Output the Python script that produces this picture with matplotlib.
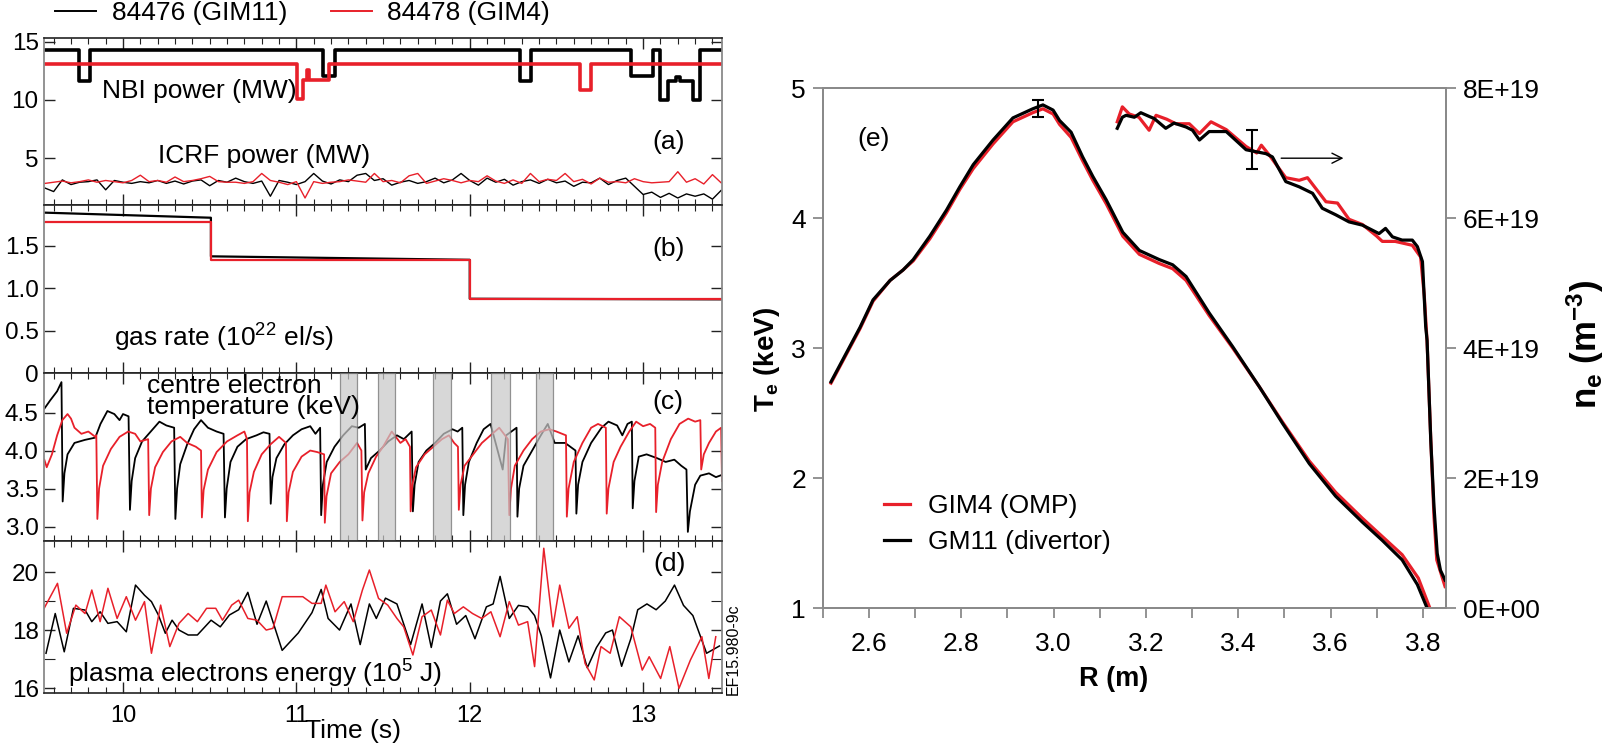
import matplotlib
matplotlib.use("Agg")
import matplotlib.pyplot as plt
from matplotlib.ticker import MultipleLocator, FixedLocator, FuncFormatter
import numpy as np

plt.rcParams['font.family'] = ['Liberation Sans', 'DejaVu Sans']
plt.rcParams['mathtext.fontset'] = 'custom'
plt.rcParams['mathtext.rm'] = 'Liberation Sans'
plt.rcParams['mathtext.bf'] = 'Liberation Sans:bold'
plt.rcParams['mathtext.it'] = 'Liberation Sans:italic'
plt.rcParams['mathtext.default'] = 'regular'

# ---------------- data: left panels (time traces) ----------------
series_labels = ["84476 (GIM11)", "84478 (GIM4)"]

# (a) NBI power, step traces (MW)
nbi_black_t = [9.546, 9.746, 9.812, 11.156, 11.222, 12.289, 12.352, 12.932, 13.056, 13.095,
               13.143, 13.19, 13.21, 13.287, 13.33, 13.455]
nbi_black_v = [14.3, 11.6, 14.3, 12.05, 14.3, 11.6, 14.3, 12.05, 14.3, 10.0,
               11.6, 12.0, 11.6, 10.0, 14.3, 14.3]
nbi_red_t = [9.546, 11.005, 11.037, 11.062, 11.075, 11.19, 12.634, 12.698, 13.455]
nbi_red_v = [13.1, 10.1, 11.7, 12.6, 11.7, 13.1, 10.85, 13.1, 13.1]

# (a) ICRF power (MW)
icrf_t = [9.55, 9.60, 9.65, 9.70, 9.75, 9.80, 9.85, 9.90, 9.95, 10.00, 10.05, 10.10, 10.15,
          10.20, 10.25, 10.30, 10.35, 10.40, 10.45, 10.50, 10.55, 10.60, 10.65, 10.70, 10.75,
          10.80, 10.85, 10.90, 10.95, 11.00, 11.05, 11.10, 11.15, 11.20, 11.25, 11.30, 11.35,
          11.40, 11.45, 11.50, 11.55, 11.60, 11.65, 11.70, 11.75, 11.80, 11.85, 11.90, 11.95,
          12.00, 12.05, 12.10, 12.15, 12.20, 12.25, 12.30, 12.35, 12.40, 12.45, 12.50, 12.55,
          12.60, 12.65, 12.70, 12.75, 12.80, 12.85, 12.90, 12.95, 13.00, 13.05, 13.10, 13.15,
          13.20, 13.25, 13.30, 13.35, 13.40, 13.45]
icrf_black = [2.45, 2.15, 3.15, 2.75, 2.95, 3.00, 3.15, 2.30, 3.10, 2.95, 2.85, 3.00, 2.90,
              3.10, 2.85, 3.05, 2.80, 3.05, 3.15, 2.65, 3.10, 2.95, 3.30, 3.00, 2.85,
              3.05, 1.75, 3.10, 2.95, 2.75, 3.00, 3.70, 3.05, 2.80, 3.15, 3.00, 3.55,
              3.70, 3.10, 3.25, 2.70, 2.95, 3.10, 2.85, 3.00, 3.30, 2.90, 3.15, 3.70,
              3.10, 2.70, 3.30, 2.95, 3.20, 2.70, 3.00, 3.15, 2.85, 3.20, 2.90, 3.05,
              2.60, 2.95, 2.90, 3.30, 2.75, 3.10, 3.30, 2.60, 1.90, 2.10, 1.65, 2.00,
              1.60, 1.95, 1.75, 1.95, 1.50, 2.25]
icrf_red = [2.85, 2.95, 3.05, 2.90, 3.00, 3.15, 2.95, 3.10, 3.00, 2.90, 3.10, 3.55, 3.00,
            3.10, 2.95, 3.40, 3.00, 3.10, 3.25, 3.45, 3.00, 2.95, 2.95, 2.85, 3.00,
            3.70, 3.10, 2.95, 2.75, 3.00, 1.60, 3.00, 2.85, 2.95, 3.00, 3.15, 3.05,
            2.95, 3.70, 3.00, 3.10, 2.90, 3.50, 3.70, 2.85, 3.05, 3.25, 3.10, 2.90,
            3.10, 3.00, 3.50, 3.05, 2.85, 3.15, 2.85, 3.70, 3.00, 3.20, 3.10, 3.70,
            3.00, 3.20, 2.80, 3.30, 2.95, 3.00, 2.90, 3.25, 3.00, 2.90, 2.95, 3.00,
            3.85, 2.95, 3.25, 2.80, 3.60, 2.90]

# (b) gas rate (1e22 el/s)
gas_t = [9.546, 10.507, 10.507, 12.0, 12.0, 13.455]
gas_black = [1.89, 1.83, 1.375, 1.334, 0.875, 0.868]
gas_red = [1.775, 1.775, 1.330, 1.330, 0.875, 0.875]

# (c) centre electron temperature (keV)
te_black_t = [9.546, 9.58, 9.62, 9.645, 9.652, 9.662, 9.68, 9.72, 9.78, 9.84, 9.87, 9.91, 9.95,
              9.98, 10.00, 10.032, 10.04, 10.05, 10.07, 10.11, 10.16, 10.21, 10.25, 10.295,
              10.302, 10.312, 10.33, 10.37, 10.41, 10.45, 10.49, 10.54, 10.58, 10.588, 10.598,
              10.62, 10.66, 10.71, 10.77, 10.81, 10.845, 10.852, 10.862, 10.885, 10.93, 10.98,
              11.03, 11.08, 11.11, 11.137, 11.143, 11.153, 11.175, 11.22, 11.27, 11.32, 11.36,
              11.395, 11.40, 11.43, 11.48, 11.53, 11.58, 11.62, 11.665, 11.672, 11.682, 11.705,
              11.75, 11.80, 11.85, 11.90, 11.93, 11.957, 11.963, 11.973, 11.995, 12.04, 12.08,
              12.12, 12.19, 12.21, 12.27, 12.275, 12.285, 12.31, 12.36, 12.41, 12.45, 12.49,
              12.55, 12.61, 12.615, 12.625, 12.65, 12.70, 12.76, 12.80, 12.85, 12.88, 12.91,
              12.935, 12.94, 12.95, 12.975, 13.02, 13.08, 13.13, 13.18, 13.22, 13.25, 13.258,
              13.27, 13.30, 13.33, 13.38, 13.42, 13.455]
te_black_v = [4.55, 4.66, 4.78, 4.90, 3.33, 3.70, 3.95, 4.10, 4.14, 4.17, 4.35, 4.52, 4.48,
              4.40, 4.48, 4.45, 3.22, 3.60, 3.90, 4.12, 4.25, 4.38, 4.33, 4.30,
              3.10, 3.50, 3.82, 4.08, 4.28, 4.40, 4.30, 4.25, 4.22, 3.12, 3.50,
              3.85, 4.05, 4.15, 4.20, 4.24, 4.22, 3.30, 3.65, 3.90, 4.08, 4.20,
              4.28, 4.32, 4.22, 4.30, 3.15, 3.55, 3.85, 4.05, 4.20, 4.32, 4.30,
              4.35, 3.75, 3.90, 4.00, 4.12, 4.20, 4.15, 4.25, 3.20, 3.55, 3.85,
              4.00, 4.10, 4.22, 4.28, 4.25, 4.30, 3.15, 3.55, 3.85, 4.10, 4.28,
              4.35, 3.75, 4.20, 4.30, 3.13, 3.50, 3.80, 4.00, 4.20, 4.35, 4.10,
              4.10, 4.00, 3.17, 3.55, 3.85, 4.10, 4.30, 4.38, 4.33, 4.20, 4.35,
              4.38, 3.24, 3.60, 3.92, 3.95, 3.90, 3.85, 3.88, 3.80, 3.75, 2.93,
              3.20, 3.55, 3.67, 3.70, 3.65, 3.68]
te_red_t = [9.546, 9.56, 9.59, 9.62, 9.65, 9.68, 9.70, 9.72, 9.76, 9.80, 9.84, 9.846, 9.852,
            9.862, 9.885, 9.93, 9.98, 10.03, 10.07, 10.10, 10.145, 10.151, 10.161, 10.185,
            10.23, 10.28, 10.33, 10.37, 10.42, 10.45, 10.455, 10.465, 10.49, 10.54, 10.60,
            10.66, 10.70, 10.715, 10.72, 10.73, 10.755, 10.80, 10.85, 10.90, 10.94, 10.945,
            10.955, 10.98, 11.03, 11.08, 11.12, 11.16, 11.164, 11.174, 11.20, 11.25, 11.30,
            11.35, 11.375, 11.381, 11.391, 11.415, 11.46, 11.50, 11.55, 11.60, 11.63, 11.655,
            11.659, 11.669, 11.69, 11.74, 11.79, 11.84, 11.88, 11.91, 11.932, 11.937, 11.947,
            11.97, 12.02, 12.07, 12.12, 12.17, 12.22, 12.228, 12.238, 12.26, 12.31, 12.36,
            12.41, 12.46, 12.50, 12.555, 12.56, 12.57, 12.60, 12.65, 12.70, 12.74, 12.785,
            12.79, 12.80, 12.83, 12.87, 12.92, 12.96, 13.00, 13.04, 13.07, 13.075, 13.085,
            13.11, 13.16, 13.21, 13.26, 13.30, 13.33, 13.335, 13.35, 13.38, 13.42, 13.45, 13.455]
te_red_v = [3.88, 3.78, 3.95, 4.20, 4.40, 4.48, 4.42, 4.30, 4.22, 4.25, 4.18, 4.20, 3.10,
            3.50, 3.80, 4.02, 4.18, 4.25, 4.22, 4.12, 4.15, 3.15, 3.50, 3.78,
            3.98, 4.12, 4.18, 4.10, 4.05, 4.00, 3.12, 3.48, 3.75, 3.98, 4.12,
            4.20, 4.25, 4.15, 3.07, 3.45, 3.72, 3.95, 4.08, 4.18, 4.10, 3.07,
            3.45, 3.72, 3.92, 4.00, 3.98, 3.95, 3.05, 3.40, 3.70, 3.85, 3.95,
            4.10, 4.00, 3.08, 3.45, 3.70, 3.92, 4.05, 4.25, 4.10, 4.15, 4.05,
            3.20, 3.55, 3.78, 3.95, 4.05, 4.15, 4.20, 4.10, 4.05, 3.22, 3.55,
            3.80, 3.95, 4.10, 4.20, 4.30, 4.15, 3.15, 3.50, 3.80, 4.00, 4.15,
            4.25, 4.28, 4.25, 4.20, 3.13, 3.50, 3.85, 4.10, 4.30, 4.35, 4.30,
            3.17, 3.50, 3.85, 4.05, 4.25, 4.38, 4.32, 4.35, 4.30, 3.19, 3.55,
            3.85, 4.15, 4.35, 4.42, 4.38, 4.40, 3.75, 3.95, 4.10, 4.25, 4.30, 3.60]
# shaded time windows in (c): (start, end) in s
band_start = [11.25, 11.47, 11.79, 12.12, 12.38]
band_end = [11.35, 11.57, 11.89, 12.23, 12.48]

# (d) plasma electrons energy (1e5 J)
we_black_t = [9.556, 9.609, 9.661, 9.714, 9.781, 9.820, 9.868, 9.913, 9.966, 10.019, 10.072,
              10.124, 10.164, 10.204, 10.244, 10.283, 10.323, 10.376, 10.429, 10.508, 10.561,
              10.614, 10.667, 10.720, 10.773, 10.826, 10.918, 11.011, 11.090, 11.143, 11.183,
              11.249, 11.315, 11.368, 11.421, 11.461, 11.514, 11.580, 11.659, 11.725, 11.778,
              11.831, 11.871, 11.924, 11.977, 12.030, 12.096, 12.135, 12.175, 12.228, 12.281,
              12.334, 12.374, 12.413, 12.466, 12.519, 12.572, 12.625, 12.678, 12.731, 12.784,
              12.823, 12.876, 12.929, 12.969, 13.022, 13.075, 13.128, 13.181, 13.233, 13.287,
              13.366, 13.440]
we_black_v = [17.2, 18.57, 17.25, 18.75, 18.69, 18.29, 18.63, 18.23, 18.29, 17.94, 19.55,
              19.2, 18.98, 18.52, 17.89, 18.34, 18.0, 17.83, 17.83, 18.34, 18.11,
              18.52, 18.7, 19.3, 18.2, 19.0, 17.3, 17.9, 18.6, 19.4, 18.4,
              18.0, 18.9, 17.5, 18.9, 18.4, 19.1, 18.9, 17.5, 18.9, 17.4,
              19.0, 19.25, 18.2, 18.5, 17.7, 18.8, 18.9, 19.85, 18.4, 18.85,
              18.8, 18.5, 17.8, 16.35, 18.0, 16.9, 17.8, 16.7, 17.4, 17.9,
              18.0, 16.75, 17.7, 18.7, 18.9, 18.7, 19.0, 19.55, 18.85, 18.5,
              17.2, 17.45]
we_red_t = [9.545, 9.622, 9.675, 9.728, 9.781, 9.820, 9.868, 9.913, 9.966, 10.019, 10.072,
            10.124, 10.164, 10.217, 10.270, 10.323, 10.376, 10.429, 10.482, 10.535, 10.574,
            10.627, 10.667, 10.720, 10.773, 10.826, 10.865, 10.918, 10.984, 11.037, 11.090,
            11.143, 11.170, 11.223, 11.276, 11.328, 11.381, 11.421, 11.474, 11.527, 11.580,
            11.619, 11.672, 11.725, 11.778, 11.831, 11.871, 11.911, 11.963, 12.016, 12.069,
            12.122, 12.175, 12.228, 12.281, 12.334, 12.374, 12.427, 12.480, 12.519, 12.572,
            12.620, 12.665, 12.718, 12.757, 12.810, 12.863, 12.929, 12.995, 13.035, 13.101,
            13.154, 13.207, 13.273, 13.339, 13.379, 13.419]
we_red_v = [18.75, 19.61, 17.89, 18.86, 18.57, 19.38, 18.29, 19.44, 18.40, 19.15, 18.34,
            18.98, 17.20, 18.86, 17.43, 18.23, 18.57, 18.29, 18.75, 18.75, 18.34,
            18.86, 19.03, 18.40, 18.34, 18.00, 18.06, 19.15, 19.15, 19.15, 18.92,
            18.92, 19.55, 18.63, 18.98, 18.29, 19.38, 20.07, 19.09, 18.86, 18.40,
            18.11, 17.14, 18.46, 18.69, 17.83, 19.03, 18.57, 18.80, 18.57, 18.40,
            18.63, 17.77, 18.98, 18.17, 18.29, 16.74, 20.82, 18.11, 19.55, 18.06,
            18.46, 16.85, 16.28, 17.43, 17.20, 18.46, 18.11, 16.62, 17.08, 16.33,
            17.43, 15.99, 16.97, 17.77, 16.33, 17.77]

# ---------------- data: right panel (profiles) ----------------
profile_labels = ["GIM4 (OMP)", "GM11 (divertor)"]
te_R_black = [2.518, 2.545, 2.581, 2.609, 2.646, 2.674, 2.696, 2.732, 2.768, 2.797, 2.826, 2.869,
              2.912, 2.955, 2.977, 2.999, 3.013, 3.038, 3.063, 3.085, 3.114, 3.150, 3.186, 3.229,
              3.258, 3.287, 3.337, 3.388, 3.446, 3.496, 3.554, 3.611, 3.669, 3.712, 3.755, 3.788,
              3.809, 3.812]
te_prof_black = [2.74, 2.92, 3.16, 3.37, 3.52, 3.60, 3.68, 3.86, 4.06, 4.24, 4.41, 4.60,
                 4.77, 4.84, 4.87, 4.83, 4.75, 4.66, 4.47, 4.32, 4.14, 3.89, 3.75, 3.68,
                 3.64, 3.55, 3.27, 3.01, 2.70, 2.42, 2.11, 1.86, 1.66, 1.52, 1.37, 1.18,
                 1.00, 0.95]
te_R_red = [2.518, 2.545, 2.581, 2.609, 2.646, 2.674, 2.696, 2.732, 2.768, 2.797, 2.826, 2.869,
            2.912, 2.955, 2.977, 2.999, 3.013, 3.038, 3.063, 3.085, 3.114, 3.150, 3.186, 3.229,
            3.258, 3.287, 3.337, 3.388, 3.446, 3.496, 3.554, 3.611, 3.669, 3.712, 3.755, 3.790,
            3.815, 3.818]
te_prof_red = [2.73, 2.91, 3.15, 3.36, 3.52, 3.60, 3.67, 3.84, 4.04, 4.22, 4.38, 4.57,
               4.74, 4.81, 4.84, 4.80, 4.72, 4.62, 4.44, 4.29, 4.11, 3.86, 3.72, 3.65,
               3.61, 3.52, 3.25, 3.00, 2.70, 2.43, 2.13, 1.89, 1.69, 1.55, 1.41, 1.23,
               1.00, 0.95]
ne_R_black = [3.138, 3.149, 3.157, 3.175, 3.189, 3.208, 3.218, 3.243, 3.261, 3.287, 3.301, 3.316,
              3.337, 3.374, 3.417, 3.460, 3.474, 3.503, 3.532, 3.561, 3.582, 3.611, 3.640, 3.669,
              3.705, 3.719, 3.734, 3.755, 3.777, 3.788, 3.799, 3.806, 3.809, 3.817, 3.824, 3.831,
              3.838, 3.848]
ne_prof_black = [7.38e19, 7.55e19, 7.58e19, 7.55e19, 7.62e19, 7.56e19, 7.53e19, 7.38e19, 7.46e19,
                 7.40e19, 7.35e19, 7.20e19, 7.33e19, 7.33e19, 7.05e19, 6.99e19, 6.94e19, 6.56e19,
                 6.48e19, 6.38e19, 6.15e19, 6.05e19, 5.94e19, 5.89e19, 5.76e19, 5.84e19, 5.71e19,
                 5.66e19, 5.66e19, 5.56e19, 5.33e19, 4.33e19, 4.12e19, 2.58e19, 1.56e19, 0.84e19,
                 0.58e19, 0.43e19]
ne_R_red = [3.138, 3.149, 3.164, 3.185, 3.207, 3.222, 3.245, 3.265, 3.294, 3.316, 3.341, 3.374,
            3.417, 3.440, 3.450, 3.466, 3.503, 3.532, 3.550, 3.590, 3.615, 3.640, 3.669, 3.700,
            3.712, 3.740, 3.777, 3.795, 3.803, 3.809, 3.817, 3.824, 3.830, 3.848]
ne_prof_red = [7.48e19, 7.71e19, 7.60e19, 7.55e19, 7.35e19, 7.58e19, 7.52e19, 7.45e19, 7.45e19,
               7.30e19, 7.48e19, 7.36e19, 7.10e19, 7.00e19, 7.12e19, 6.98e19, 6.62e19, 6.58e19,
               6.62e19, 6.25e19, 6.23e19, 5.98e19, 5.90e19, 5.72e19, 5.64e19, 5.64e19, 5.58e19,
               5.40e19, 4.80e19, 4.10e19, 2.60e19, 1.40e19, 0.74e19, 0.33e19]
te_err_R, te_err_v, te_err = 2.966, 4.845, 0.065
ne_err_R, ne_err_v, ne_err = 3.43, 7.05e19, 0.30e19

RED = '#e8202a'
BLACK = '#000000'

# ---------------- figure ----------------
W, H = 1604, 749
fig = plt.figure(figsize=(W / 100, H / 100), dpi=100)


def rect(x0, y0, x1, y1):
    return [x0 / W, 1 - y1 / H, (x1 - x0) / W, (y1 - y0) / H]


axa = fig.add_axes(rect(44.3, 38, 722, 205))
axb = fig.add_axes(rect(44.3, 205, 722, 373), sharex=axa)
axc = fig.add_axes(rect(44.3, 373, 722, 541), sharex=axa)
axd = fig.add_axes(rect(44.3, 541, 722, 693), sharex=axa)

# (a)
axa.plot(nbi_black_t, nbi_black_v, drawstyle='steps-post', color=BLACK, lw=2.6)
axa.plot(nbi_red_t, nbi_red_v, drawstyle='steps-post', color=RED, lw=2.6)
hb, = axa.plot(icrf_t, icrf_black, color=BLACK, lw=1.0)
hr, = axa.plot(icrf_t, icrf_red, color=RED, lw=1.0)
axa.set_ylim(1.0, 15.3)
axa.yaxis.set_major_locator(FixedLocator([5, 10, 15]))

# (b)
axb.plot(gas_t, gas_black, color=BLACK, lw=1.6)
axb.plot(gas_t, gas_red, color=RED, lw=1.6)
axb.set_ylim(0, 1.98)
axb.yaxis.set_major_locator(FixedLocator([0, 0.5, 1.0, 1.5]))
axb.yaxis.set_major_formatter(FuncFormatter(lambda v, p: '0' if abs(v) < 1e-9 else f'{v:.1f}'))

# (c)
axc.plot(te_black_t, te_black_v, color=BLACK, lw=1.3)
axc.plot(te_red_t, te_red_v, color=RED, lw=1.3)
for s, e in zip(band_start, band_end):
    axc.axvspan(s, e, facecolor='#c8c8c8', alpha=0.72, edgecolor='#6f6f6f', lw=0.9, zorder=3)
axc.set_ylim(2.81, 5.02)
axc.yaxis.set_major_locator(FixedLocator([3.0, 3.5, 4.0, 4.5]))
axc.yaxis.set_major_formatter(FuncFormatter(lambda v, p: f'{v:.1f}'))

# (d)
axd.plot(we_black_t, we_black_v, color=BLACK, lw=1.1)
axd.plot(we_red_t, we_red_v, color=RED, lw=1.1)
axd.set_ylim(15.83, 21.07)
axd.yaxis.set_major_locator(FixedLocator([16, 18, 20]))
axd.yaxis.set_minor_locator(FixedLocator([17, 19]))

axa.set_xlim(9.546, 13.455)
for ax in (axa, axb, axc, axd):
    ax.xaxis.set_major_locator(MultipleLocator(1))
    ax.xaxis.set_minor_locator(MultipleLocator(0.1))
    ax.tick_params(which='both', direction='in', top=True, right=True, color='#222222')
    ax.tick_params(which='major', length=8, width=1.0)
    ax.tick_params(which='minor', length=4, width=0.8)
    ax.tick_params(axis='y', which='minor', length=8)
    ax.tick_params(axis='y', labelsize=17.5, pad=4)
    ax.tick_params(axis='x', labelsize=17, pad=9)
    for side in ('left', 'right'):
        ax.spines[side].set_color('#8a8a8a')
        ax.spines[side].set_linewidth(1.3)
    for side in ('top', 'bottom'):
        ax.spines[side].set_color('#222222')
        ax.spines[side].set_linewidth(1.2)
    if ax is not axd:
        ax.tick_params(axis='x', labelbottom=False)

# annotations in left panels
TXT = 19
axa.text(0.085, 0.641, 'NBI power (MW)', transform=axa.transAxes, fontsize=TXT, va='baseline')
axa.text(0.168, 0.251, 'ICRF power (MW)', transform=axa.transAxes, fontsize=TXT, va='baseline')
axa.text(0.897, 0.335, '(a)', transform=axa.transAxes, fontsize=TXT, va='baseline')
axb.text(0.898, 0.696, '(b)', transform=axb.transAxes, fontsize=TXT, va='baseline')
axb.text(0.103, 0.155, r'gas rate (10$^{22}$ el/s)', transform=axb.transAxes, fontsize=TXT,
         va='baseline')
axc.text(0.152, 0.881, 'centre electron', transform=axc.transAxes, fontsize=TXT, va='baseline',
         zorder=5)
axc.text(0.152, 0.756, 'temperature (keV)', transform=axc.transAxes, fontsize=TXT,
         va='baseline', zorder=5)
axc.text(0.898, 0.786, '(c)', transform=axc.transAxes, fontsize=TXT, va='baseline')
axd.text(0.899, 0.803, '(d)', transform=axd.transAxes, fontsize=TXT, va='baseline')
axd.text(0.035, 0.066, r'plasma electrons energy (10$^5$ J)', transform=axd.transAxes,
         fontsize=TXT, va='baseline')
axd.set_xlabel('Time (s)', fontsize=TXT)
axd.xaxis.set_label_coords(0.455, -0.17)
fig.text(733 / W, 1 - 695 / H, 'EF15.980-9c', rotation=90, fontsize=11.5, ha='center',
         va='bottom')

leg = axa.legend([hb, hr], series_labels, loc='upper left',
                 bbox_to_anchor=((55 - 44.3) / 677.7, (205 - 1) / 167),
                 ncol=2, frameon=False, fontsize=TXT, borderpad=0, borderaxespad=0,
                 handlelength=1.55, handletextpad=0.6, columnspacing=1.65)
for ln in leg.get_lines():
    ln.set_linewidth(1.4)

# ---------------- right panel ----------------
axe = fig.add_axes(rect(822.7, 88, 1446, 608))
axn = axe.twinx()
axe.plot(te_R_red, te_prof_red, color=RED, lw=2.3, label=profile_labels[0])
axe.plot(te_R_black, te_prof_black, color=BLACK, lw=2.3, label=profile_labels[1])
axe.errorbar([te_err_R], [te_err_v], yerr=[te_err], color=BLACK, lw=1.5, capsize=4.5,
             capthick=1.5)
axn.plot(ne_R_red, ne_prof_red, color=RED, lw=2.3)
axn.plot(ne_R_black, ne_prof_black, color=BLACK, lw=2.3)
axn.errorbar([ne_err_R], [ne_err_v], yerr=[ne_err], color=BLACK, lw=1.5, capsize=4.5,
             capthick=1.5)
axn.annotate('', xy=(3.634, 6.92e19), xytext=(3.487, 6.92e19),
             arrowprops=dict(arrowstyle='->', color=BLACK, lw=1.0, mutation_scale=18))

axe.set_xlim(2.5, 3.85)
axe.set_ylim(1, 5)
axn.set_ylim(0, 8e19)
axe.xaxis.set_major_locator(FixedLocator([2.6, 2.8, 3.0, 3.2, 3.4, 3.6, 3.8]))
axe.xaxis.set_minor_locator(FixedLocator([2.5, 2.7, 2.9, 3.1, 3.3, 3.5, 3.7]))
axe.xaxis.set_major_formatter(FuncFormatter(lambda v, p: f'{v:.1f}'))
axe.yaxis.set_major_locator(FixedLocator([1, 2, 3, 4, 5]))
axn.yaxis.set_major_locator(FixedLocator([0, 2e19, 4e19, 6e19, 8e19]))
axn.yaxis.set_major_formatter(FuncFormatter(lambda v, p: f'{v:.0E}'))

GRAY = '#8a8a8a'
for ax in (axe, axn):
    for sp in ax.spines.values():
        sp.set_color(GRAY)
        sp.set_linewidth(1.4)
axe.tick_params(which='both', direction='out', color=GRAY, length=7, width=1.3,
                labelsize=19)
axe.tick_params(axis='x', pad=10)
axe.tick_params(axis='y', pad=5)
axn.tick_params(direction='out', color=GRAY, length=7, width=1.3, labelsize=19, pad=5)

axe.set_xlabel('R (m)', fontsize=19.5, fontweight='bold')
axe.xaxis.set_label_coords(0.467, -0.112)
axe.set_ylabel(r'T$_\mathbf{e}$ (keV)', fontsize=20, fontweight='bold')
axe.yaxis.set_label_coords(-0.066, 0.477)
axn.set_ylabel(r'n$_\mathbf{e}$ (m$^\mathbf{-3}$)', fontsize=25, fontweight='bold')
axn.yaxis.set_label_coords(1.19, 0.506)
axe.text(0.055, 0.888, '(e)', transform=axe.transAxes, fontsize=19, va='baseline')

axe.legend(loc='upper left', bbox_to_anchor=((884 - 822.7) / 623.3, (608 - 494) / 520),
           frameon=False, fontsize=19, borderpad=0, borderaxespad=0, handlelength=1.0,
           handletextpad=0.65, labelspacing=0.45)

fig.savefig('out.png', dpi=100)
